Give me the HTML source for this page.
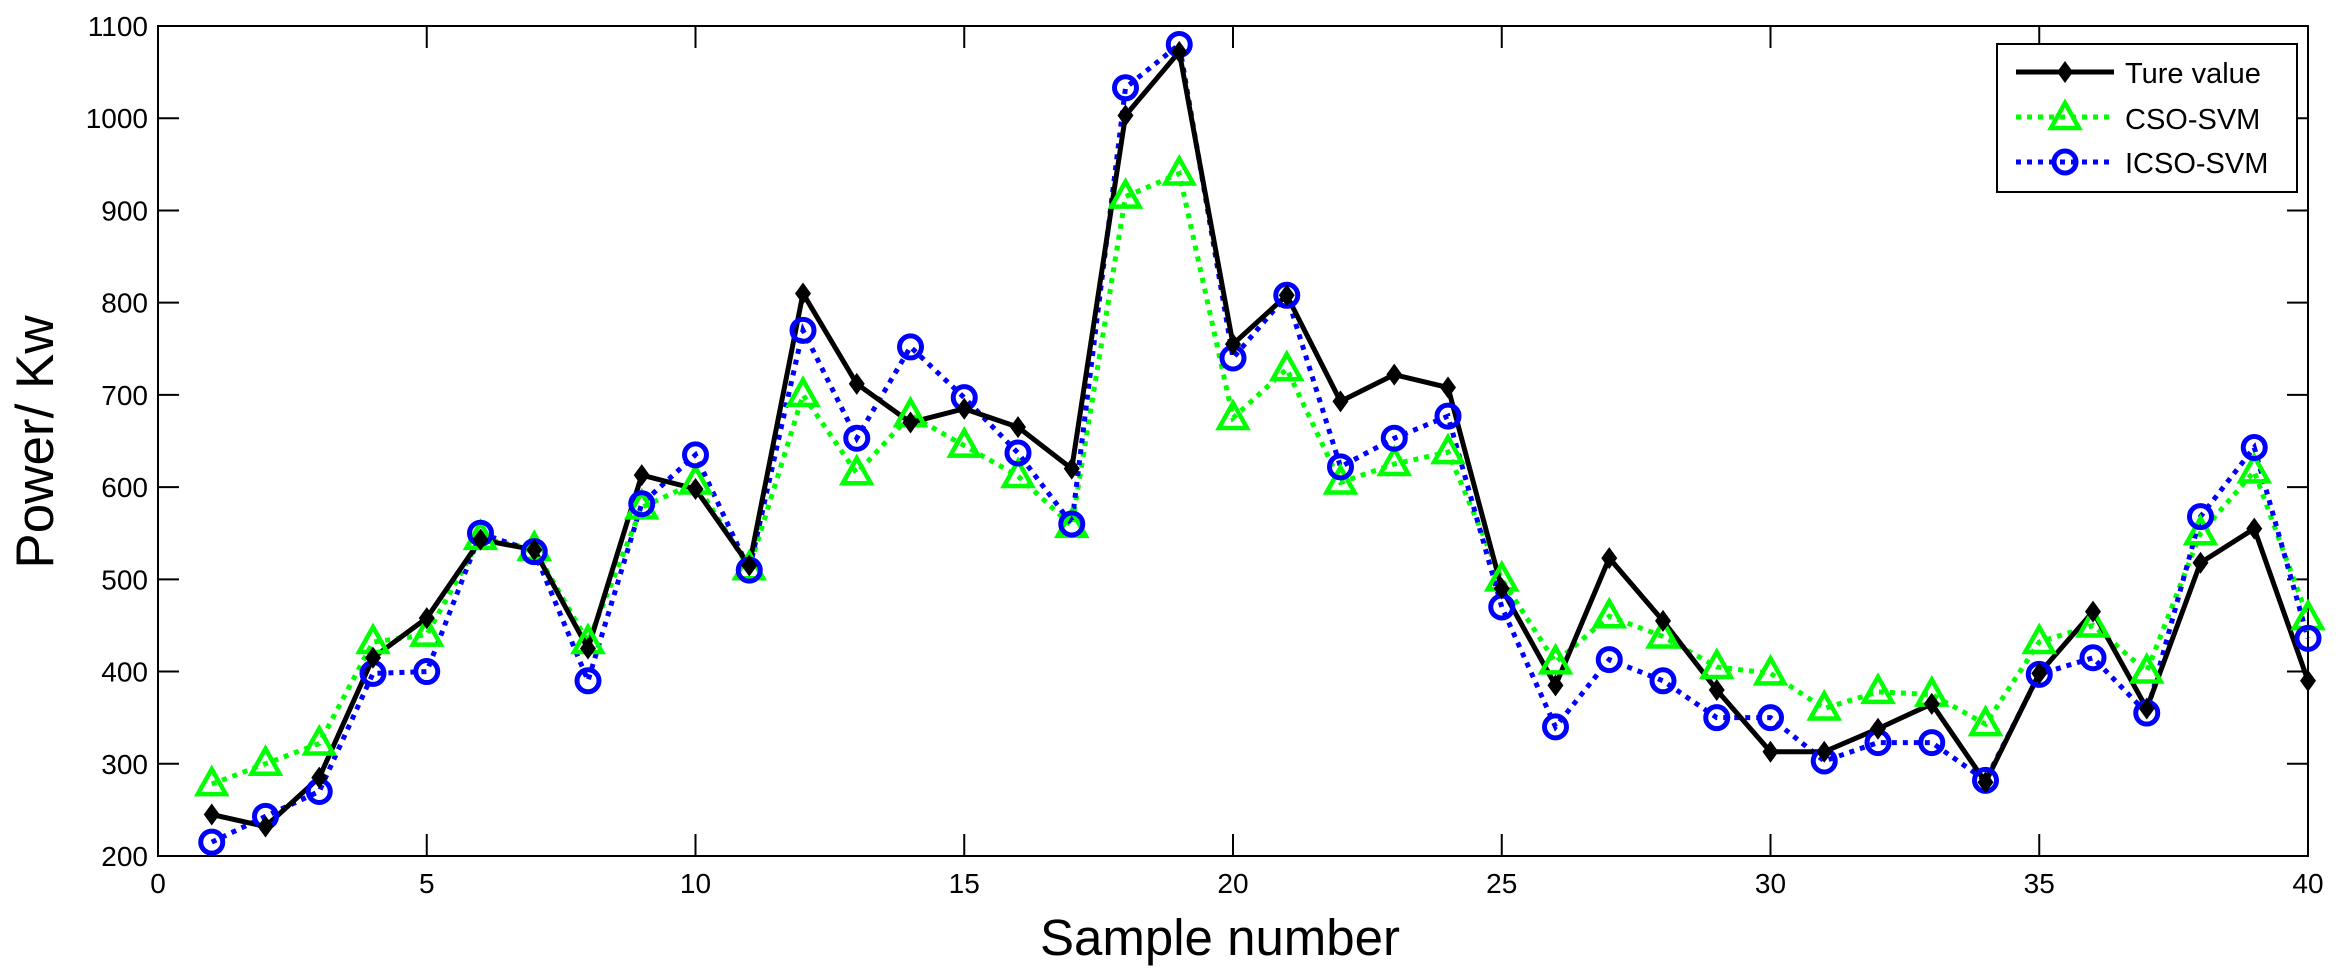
<!DOCTYPE html>
<html><head><meta charset="utf-8"><style>body{margin:0;background:#fff}svg{display:block}</style></head>
<body>
<svg id="s" width="2338" height="977" xmlns="http://www.w3.org/2000/svg" font-family="Liberation Sans, Arial, sans-serif"></svg>
<script>
const L=158,R=2308,T=26,B=856;
const X=v=>L+(R-L)*v/40, Y=v=>B-(B-T)*(v-200)/900;
const tv=[245,232,285,415,458,543,532,425,613,598,515,810,712,670,685,665,620,1003,1072,755,808,693,722,708,490,385,523,455,380,313,313,338,365,280,398,465,360,518,555,390];
const cs=[278,300,322,432,440,545,533,432,578,605,512,700,615,678,645,612,558,915,940,675,728,605,625,638,500,410,460,438,405,398,360,378,375,343,432,450,400,550,617,458];
const ic=[215,243,270,398,400,550,530,390,582,635,510,770,653,752,697,637,560,1033,1080,740,808,622,653,677,470,340,413,390,350,350,303,323,323,282,397,415,355,568,643,436];
let h='';
h+=`<rect x="${L}" y="${T}" width="${R-L}" height="${B-T}" fill="#fff" stroke="#000" stroke-width="2"/>`;
for(let v=0;v<=40;v+=5){const x=X(v);h+=`<line x1="${x}" y1="${B}" x2="${x}" y2="${B-22}" stroke="#000" stroke-width="2"/><line x1="${x}" y1="${T}" x2="${x}" y2="${T+22}" stroke="#000" stroke-width="2"/><text x="${x}" y="${B+37}" font-size="28" text-anchor="middle">${v}</text>`;}
for(let v=200;v<=1100;v+=100){const y=Y(v);h+=`<line x1="${L}" y1="${y}" x2="${L+21}" y2="${y}" stroke="#000" stroke-width="2"/><line x1="${R}" y1="${y}" x2="${R-21}" y2="${y}" stroke="#000" stroke-width="2"/><text x="${L-10}" y="${y+10}" font-size="28" text-anchor="end">${v}</text>`;}
h+=`<text x="1220" y="955" font-size="51" text-anchor="middle">Sample number</text>`;
h+=`<text transform="translate(53,442) rotate(-90)" font-size="53" text-anchor="middle">Power/ Kw</text>`;
const pts=a=>a.map((v,i)=>X(i+1)+','+Y(v)).join(' ');
h+=`<polyline points="${pts(cs)}" fill="none" stroke="#00ff00" stroke-width="5" stroke-dasharray="5,6"/>`;
h+=`<polyline points="${pts(ic)}" fill="none" stroke="#0000ff" stroke-width="5" stroke-dasharray="5,6"/>`;
h+=`<polyline points="${pts(tv)}" fill="none" stroke="#000" stroke-width="5"/>`;
const tri=(x,y)=>`<polygon points="${x},${y-15} ${x-14},${y+10} ${x+14},${y+10}" fill="none" stroke="#00ff00" stroke-width="4.5"/>`;
const cir=(x,y)=>`<circle cx="${x}" cy="${y}" r="11" fill="none" stroke="#0000ff" stroke-width="5"/>`;
const dia=(x,y)=>`<polygon points="${x},${y-11} ${x+8},${y} ${x},${y+11} ${x-8},${y}" fill="#000"/>`;
cs.forEach((v,i)=>h+=tri(X(i+1),Y(v)));
ic.forEach((v,i)=>h+=cir(X(i+1),Y(v)));
tv.forEach((v,i)=>h+=dia(X(i+1),Y(v)));
h+=`<rect x="1997" y="44" width="300" height="148" fill="#fff" stroke="#000" stroke-width="2"/>`;
h+=`<line x1="2016" y1="72" x2="2114" y2="72" stroke="#000" stroke-width="5"/>`+dia(2065,72);
h+=`<text x="2125" y="83" font-size="29">Ture value</text>`;
h+=`<line x1="2016" y1="117" x2="2112" y2="117" stroke="#00ff00" stroke-width="5" stroke-dasharray="5,6"/>`+tri(2065,118);
h+=`<text x="2125" y="129" font-size="29">CSO-SVM</text>`;
h+=`<line x1="2016" y1="162" x2="2112" y2="162" stroke="#0000ff" stroke-width="5" stroke-dasharray="5,6"/>`+cir(2065,162);
h+=`<text x="2125" y="173" font-size="29">ICSO-SVM</text>`;
document.getElementById('s').innerHTML=h;
</script>
</body></html>
